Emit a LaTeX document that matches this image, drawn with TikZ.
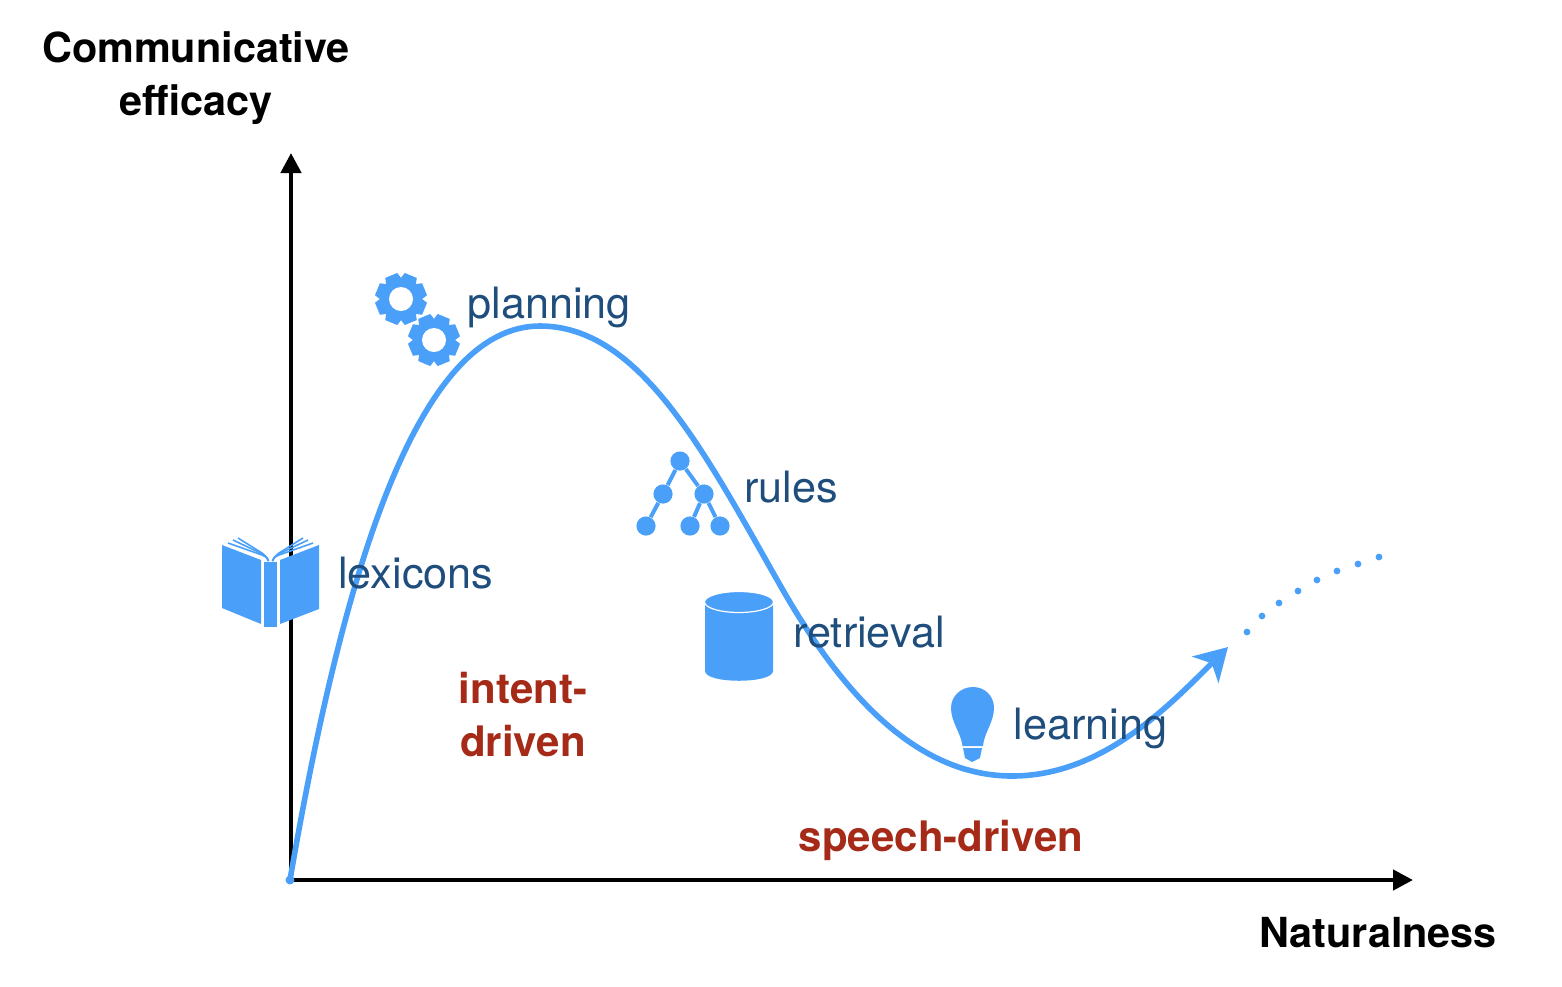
\documentclass[tikz,border=0pt]{standalone}
\usepackage{fontspec}
\setmainfont{TeX Gyre Heros}
\usepackage{xcolor}
\usepackage{tikz}
\usetikzlibrary{arrows.meta}
\definecolor{curveblue}{HTML}{4A9FF9}
\definecolor{labelblue}{HTML}{1F4E7D}
\definecolor{drivenred}{HTML}{A52A18}
\tikzstyle{chart}=[
  x=0.5pt,y=-0.5pt,line join=round
]
\tikzstyle{axis}=[
  line width=2.2pt,-{Triangle[length=10pt,width=10pt]}
]
\tikzstyle{trend}=[
  curveblue,line width=2.8pt,line cap=round,
  -{Stealth[length=16pt,width=18.5pt,inset=4.5pt]}
]
\tikzstyle{method}=[
  text=labelblue,anchor=base west,inner sep=0pt,font=\fontsize{21.6}{26}\selectfont
]
\tikzstyle{driven}=[
  text=drivenred,anchor=base,inner sep=0pt,align=center,font=\fontsize{21}{26.5}\selectfont\bfseries
]
\tikzstyle{axislabel}=[
  anchor=base,inner sep=0pt,align=center,font=\fontsize{20.7}{26.5}\selectfont\bfseries
]
\tikzstyle{treenode}=[
  circle,fill=curveblue,inner sep=0pt,minimum size=9.6pt
]
\tikzstyle{treeedge}=[
  curveblue,line width=2pt
]
\tikzstyle{icon}=[
  fill=curveblue,draw=none
]
\tikzstyle{leaf}=[
  curveblue,line width=0.8pt
]
\newcommand{\drawgear}[2]{
  \begin{scope}[shift={(#1,#2)}]
    \fill [icon] (0,0) circle (20.5);
    \foreach \toothangle in {22.5,67.5,...,337.5} {
      \fill [icon,rotate=\toothangle] (18,-8.5) -- (25.5,-6.5) -- (25.5,6.5) -- (18,8.5) -- cycle;
    }
    \fill [white] (0,0) circle (12);
  \end{scope}
}

\begin{document}
\begin{tikzpicture}[chart]
  \useasboundingbox (0,0) rectangle (1562,986);
  \coordinate (origin) at (291,880);
  \coordinate (ytop) at (291,153);
  \coordinate (xstart) at (289,880);
  \coordinate (xend) at (1413,880);
  \draw [axis] (origin) -- (ytop);
  \draw [axis] (xstart) -- (xend);
  % book
  \fill [icon] (222,545) -- (261,560) -- (261,624) -- (222,608) -- cycle;
  \fill [icon] (264,562) rectangle (277,627);
  \fill [icon] (280,560) -- (319,545) -- (319,609) -- (280,624) -- cycle;
  \foreach \dx/\dy in {0/0,5/-3,10/-5} {
    \draw [leaf] (228+\dx,543+\dy) -- (262,555+0.4*\dy) .. controls (267,557) and (268,559) .. (268.5,561);
    \draw [leaf] (313-\dx,543+\dy) -- (279,555+0.4*\dy) .. controls (274,557) and (273,559) .. (272.5,561);
  }
  % gears
  \drawgear{401}{299}
  \drawgear{434}{340}
  % tree
  \node (treeroot) at (680,461) [treenode] {};
  \node (treeleft) at (663,494) [treenode] {};
  \node (treeright) at (704,494) [treenode] {};
  \node (leafa) at (646,526) [treenode] {};
  \node (leafb) at (690,526) [treenode] {};
  \node (leafc) at (720,526) [treenode] {};
  \draw [treeedge] (treeroot) -- (treeleft);
  \draw [treeedge] (treeroot) -- (treeright);
  \draw [treeedge] (treeleft) -- (leafa);
  \draw [treeedge] (treeright) -- (leafb);
  \draw [treeedge] (treeright) -- (leafc);
  % database
  \fill [icon] (705,602) -- (705,671) .. controls (705,684) and (773,684) .. (773,671) -- (773,602) -- cycle;
  \fill [icon,draw=white,line width=0.6pt] (739,602) ellipse (34.5 and 10.5);
  % bulb
  \fill [icon] (962.5,746) .. controls (961,733) and (951,722) .. (951,708) .. controls (951,696) and (961,687) .. (973,687) .. controls (985,687) and (994,696) .. (994,708) .. controls (994,722) and (984,733) .. (983,746) -- cycle;
  \fill [icon] (963,748) -- (982,748) -- (980,758) -- (972,762) -- (965,758) -- cycle;
  % curve
  \coordinate (curvestart) at (290,880);
  \coordinate (curvepeak) at (540,326);
  \coordinate (curvemid) at (780,585);
  \coordinate (curvelow) at (1012,776);
  \coordinate (curveend) at (1228,647);
  \fill [icon] (curvestart) circle (4.5);
  \draw [trend] (curvestart) .. controls (345,560) and (420,326) .. (curvepeak)
    .. controls (640,326) and (705,453) .. (curvemid)
    .. controls (835,682) and (910,776) .. (curvelow)
    .. controls (1100,776) and (1165,710) .. (curveend);
  \foreach \px/\py in {1247/632,1262/616,1279/603,1298/591,1317/580,1337/571,1358/564,1379/557} {
    \fill [icon] (\px,\py) circle (3.4);
  }
  % labels
  \node (planning) at (467,318) [method] {planning};
  \node (rules) at (744,502) [method] {rules};
  \node (lexicons) at (338,588) [method] {lexicons};
  \node (retrieval) at (793,647) [method] {retrieval};
  \node (learning) at (1013,739) [method] {learning};
  \node (intent) at (523,756) [driven] {intent-\\driven};
  \node (speech) at (941,851) [driven] {speech-driven};
  \node (yname) at (196,115) [axislabel] {Communicative\\efficacy};
  \node (xname) at (1378,947) [axislabel] {Naturalness};
\end{tikzpicture}
\end{document}
